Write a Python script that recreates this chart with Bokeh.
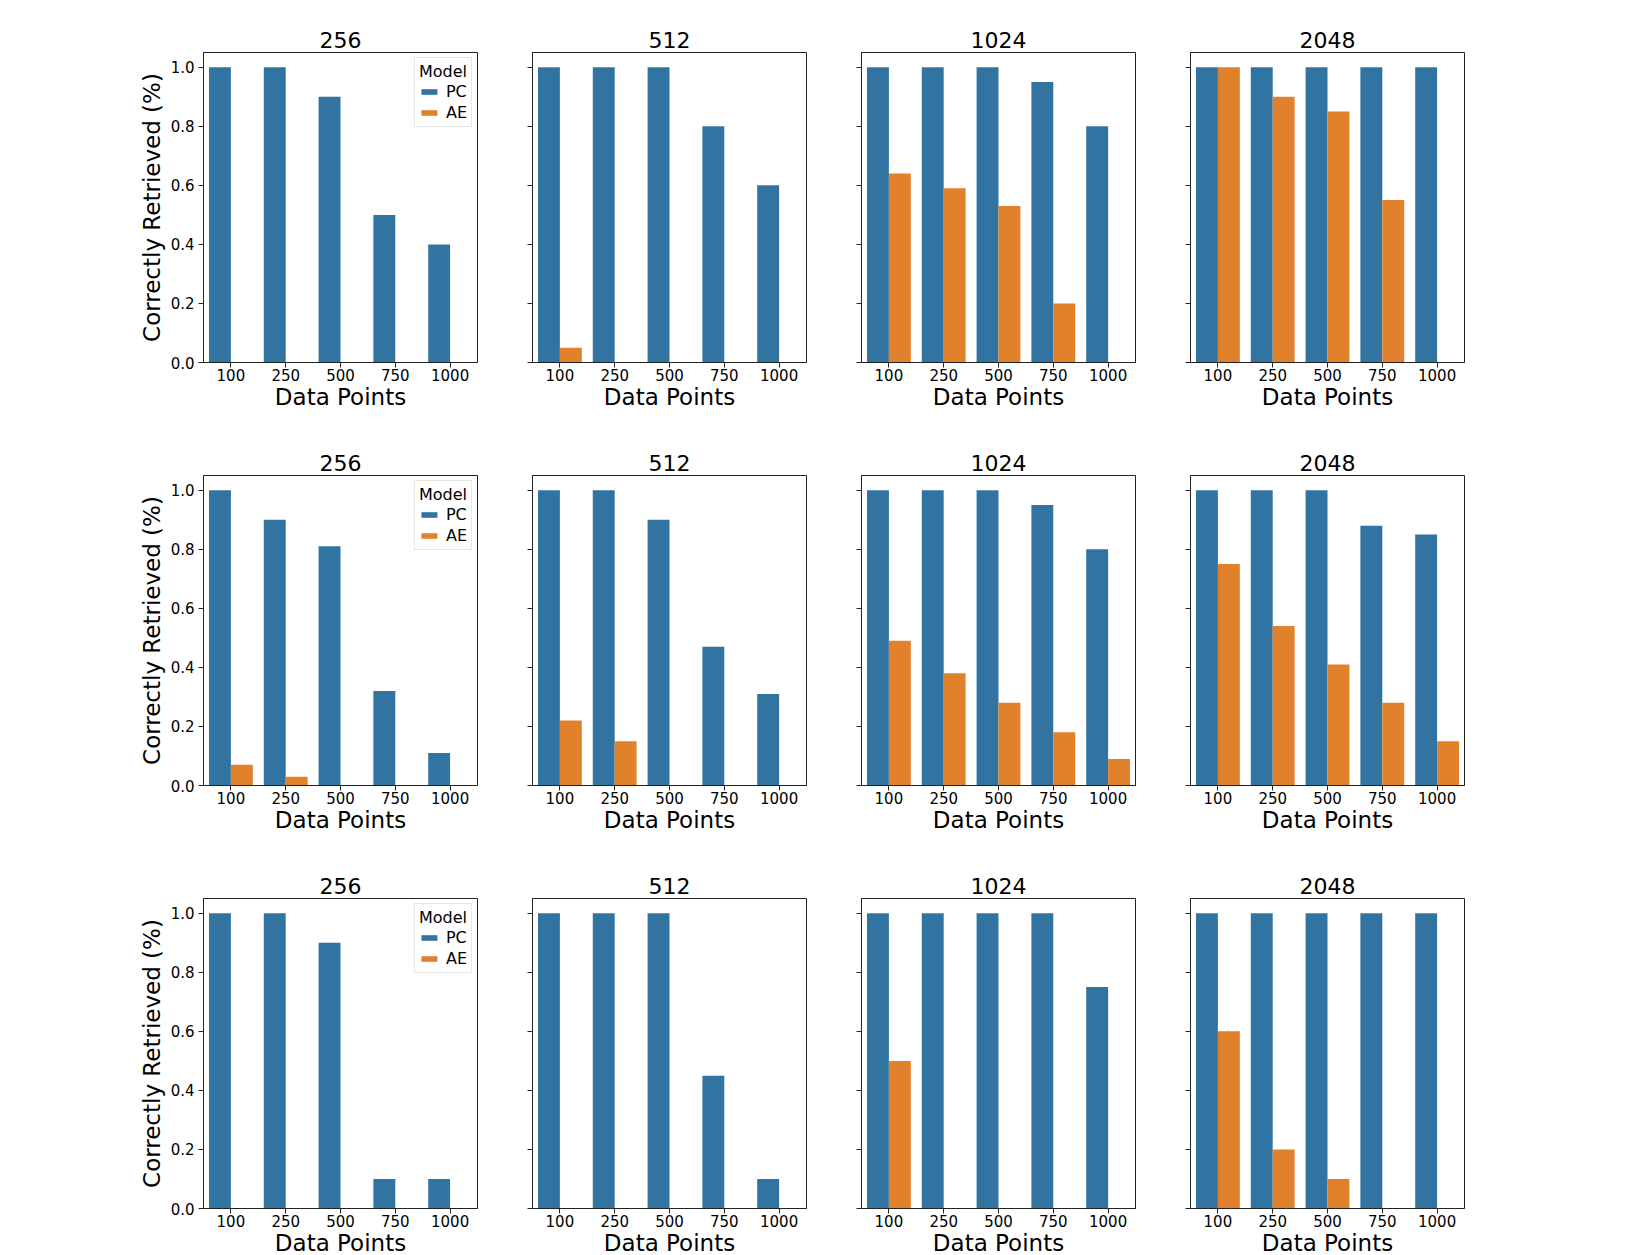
from bokeh.plotting import figure
from bokeh.models import (FactorRange, Range1d, FixedTicker, Legend, LegendItem,
                          ColumnDataSource, NumeralTickFormatter, CustomJSTickFormatter)
from bokeh.layouts import column, row
from bokeh.transform import dodge
from bokeh.embed import file_html
from bokeh.resources import INLINE

# ---------------- data ----------------
data_points = ["100", "250", "500", "750", "1000"]
panel_titles = ["256", "512", "1024", "2048"]
models = ["PC", "AE"]
y_ticks = [0.0, 0.2, 0.4, 0.6, 0.8, 1.0]

pc_row1 = [[1.0, 1.0, 0.90, 0.50, 0.40],
           [1.0, 1.0, 1.00, 0.80, 0.60],
           [1.0, 1.0, 1.00, 0.95, 0.80],
           [1.0, 1.0, 1.00, 1.00, 1.00]]
ae_row1 = [[0.00, 0.00, 0.00, 0.00, 0.00],
           [0.05, 0.00, 0.00, 0.00, 0.00],
           [0.64, 0.59, 0.53, 0.20, 0.00],
           [1.00, 0.90, 0.85, 0.55, 0.00]]

pc_row2 = [[1.0, 0.90, 0.81, 0.32, 0.11],
           [1.0, 1.00, 0.90, 0.47, 0.31],
           [1.0, 1.00, 1.00, 0.95, 0.80],
           [1.0, 1.00, 1.00, 0.88, 0.85]]
ae_row2 = [[0.07, 0.03, 0.00, 0.00, 0.00],
           [0.22, 0.15, 0.00, 0.00, 0.00],
           [0.49, 0.38, 0.28, 0.18, 0.09],
           [0.75, 0.54, 0.41, 0.28, 0.15]]

pc_row3 = [[1.0, 1.0, 0.90, 0.10, 0.10],
           [1.0, 1.0, 1.00, 0.45, 0.10],
           [1.0, 1.0, 1.00, 1.00, 0.75],
           [1.0, 1.0, 1.00, 1.00, 1.00]]
ae_row3 = [[0.00, 0.00, 0.00, 0.00, 0.00],
           [0.00, 0.00, 0.00, 0.00, 0.00],
           [0.50, 0.00, 0.00, 0.00, 0.00],
           [0.60, 0.20, 0.10, 0.00, 0.00]]

# ---------------- style ----------------
BLUE = "#3274a1"
ORANGE = "#e1812c"
FONT = "DejaVu Sans"
FRAME_W = 274
FRAME_H = 310


def make_panel(pc, ae, title, col, top_border, bottom_border):
    first = col == 0
    p = figure(
        x_range=FactorRange(factors=data_points, range_padding=0),
        y_range=Range1d(0, 1.05),
        frame_width=FRAME_W, frame_height=FRAME_H,
        min_border_left=203 if first else 30,
        min_border_right=25,
        min_border_top=top_border,
        min_border_bottom=bottom_border,
        output_backend="svg", toolbar_location=None, tools="",
        background_fill_color="white", border_fill_color="white",
    )
    src = ColumnDataSource(dict(x=data_points, pc=pc, ae=ae))
    r_pc = p.vbar(x=dodge("x", -0.2, range=p.x_range), top="pc", width=0.4,
                  source=src, fill_color=BLUE, line_color=None)
    r_ae = p.vbar(x=dodge("x", 0.2, range=p.x_range), top="ae", width=0.4,
                  source=src, fill_color=ORANGE, line_color=None)

    p.title.text = title
    p.title.align = "center"
    p.title.text_font = FONT
    p.title.text_font_size = "22px"
    p.title.text_font_style = "normal"
    p.title.text_color = "black"
    p.title.standoff = 9

    p.xgrid.visible = False
    p.ygrid.visible = False
    p.outline_line_color = "#222222"
    p.outline_line_width = 1

    xa = p.xaxis[0]
    xa.axis_label = "Data Points"
    xa.axis_label_text_font = FONT
    xa.axis_label_text_font_size = "23px"
    xa.axis_label_text_font_style = "normal"
    xa.axis_label_text_color = "black"
    xa.axis_label_standoff = 0
    xa.major_label_text_font = FONT
    xa.major_label_text_font_size = "15px"
    xa.major_label_text_color = "black"
    xa.major_label_standoff = 1
    xa.major_tick_out = 5
    xa.major_tick_in = 0
    xa.major_tick_line_color = "#222222"
    xa.axis_line_color = "#222222"

    ya = p.yaxis[0]
    ya.ticker = FixedTicker(ticks=y_ticks)
    ya.minor_tick_line_color = None
    ya.major_tick_out = 5
    ya.major_tick_in = 0
    ya.major_tick_line_color = "#222222"
    ya.axis_line_color = "#222222"
    if first:
        ya.formatter = NumeralTickFormatter(format="0.0")
        ya.axis_label = "Correctly Retrieved (%)"
        ya.axis_label_text_font = FONT
        ya.axis_label_text_font_size = "23px"
        ya.axis_label_text_font_style = "normal"
        ya.axis_label_text_color = "black"
        ya.axis_label_standoff = 3
        ya.major_label_text_font = FONT
        ya.major_label_text_font_size = "15px"
        ya.major_label_text_color = "black"
        ya.major_label_standoff = 4
        legend = Legend(
            items=[LegendItem(label=models[0], renderers=[r_pc]),
                   LegendItem(label=models[1], renderers=[r_ae])],
            location="top_right", title="Model",
        )
        legend.title_text_font = FONT
        legend.title_text_font_size = "16px"
        legend.title_text_font_style = "normal"
        legend.title_text_color = "black"
        legend.title_standoff = 0
        legend.label_text_font = FONT
        legend.label_text_font_size = "16px"
        legend.label_text_color = "black"
        legend.label_height = 20
        legend.label_standoff = 7
        legend.glyph_width = 20
        legend.glyph_height = 7
        legend.spacing = 1
        legend.padding = 4
        legend.margin = 5
        legend.border_line_color = "#cccccc"
        legend.border_line_width = 1
        legend.background_fill_alpha = 0.8
        p.add_layout(legend)
    else:
        ya.formatter = CustomJSTickFormatter(code="return ''")
        ya.major_label_standoff = 0
    return p


rows_pc = [pc_row1, pc_row2, pc_row3]
rows_ae = [ae_row1, ae_row2, ae_row3]
tops = [52, 47, 47]
bottoms = [66, 66, 40]

layout_rows = []
for r in range(3):
    figs = []
    for c in range(4):
        figs.append(make_panel(rows_pc[r][c], rows_ae[r][c], panel_titles[c], c,
                               tops[r], bottoms[r]))
    layout_rows.append(row(*figs))

layout = column(*layout_rows)

with open("out.html", "w") as f:
    f.write(file_html(layout, INLINE))
